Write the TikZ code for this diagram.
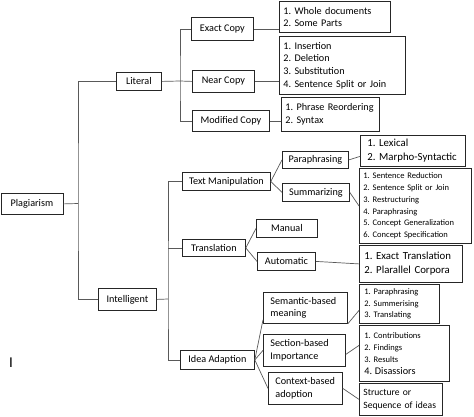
\documentclass[tikz,border=0pt]{standalone}
\usepackage{fontspec}
\setmainfont{Carlito}
\frenchspacing
\usetikzlibrary{positioning}
\newcommand{\catsize}{\fontsize{10.2}{12.7}\selectfont}
\newcommand{\smallsize}{\fontsize{8.5}{11.8}\selectfont}
\newcommand{\largesize}{\fontsize{10.8}{13.7}\selectfont}
\tikzset{
  catbox/.style={draw=black!85, line width=0.8pt, anchor=north west, inner sep=2pt, align=center, font=\catsize},
  listbox/.style={draw=black!85, line width=0.8pt, anchor=north west, inner xsep=4pt, inner ysep=2pt, align=left, font=\catsize},
  branch/.style={draw=black!65, line width=0.7pt},
}

\begin{document}
\begin{tikzpicture}[x=1pt, y=-1pt]
    \useasboundingbox (0,0) rectangle (474,416);
    % first level
    \node[catbox, minimum width=62pt, minimum height=21pt] (plag) at (0.5,193) {Plagiarism};
    \node[catbox, minimum width=45pt, minimum height=18pt] (literal) at (116,72) {Literal};
    \node[catbox, minimum width=58pt, minimum height=22pt] (intel) at (98,288) {Intelligent};
    % literal
    \node[catbox, minimum width=62pt, minimum height=23pt] (exact) at (191,17) {Exact Copy};
    \node[catbox, minimum width=62pt, minimum height=22pt] (near) at (192,70) {Near Copy};
    \node[catbox, minimum width=77pt, minimum height=21pt] (modified) at (192,110) {Modified Copy};
    \node[listbox, text width=103pt, minimum height=31pt] (wholelist) at (279,1) {1. Whole documents\\ 2. Some Parts};
    \node[listbox, text width=118pt, minimum height=58pt] (nearlist) at (279,36) {1. Insertion\\ 2. Deletion\\ 3. Substitution\\ 4. Sentence Split or Join};
    \node[listbox, text width=90pt, minimum height=34pt] (modlist) at (281,97) {1. Phrase Reordering\\ 2. Syntax};
    % intelligent
    \node[catbox, minimum width=88pt, minimum height=18pt] (textman) at (182,172) {Text Manipulation};
    \node[catbox, minimum width=66pt, minimum height=17pt] (para) at (282,151) {Paraphrasing};
    \node[catbox, minimum width=67pt, minimum height=18pt] (summ) at (282,183) {Summarizing};
    \node[listbox, font=\largesize, inner xsep=7pt, text width=91pt, minimum height=31pt] (lexlist) at (360,135) {1. Lexical\\ 2. Marpho-Syntactic};
    \node[listbox, font=\smallsize, text width=104pt, minimum height=75pt] (sumlist) at (359,168) {1. Sentence Reduction\\ 2. Sentence Split or Join\\ 3. Restructuring\\ 4. Paraphrasing\\ 5. Concept Generalization\\ 6. Concept Specification};
    \node[catbox, minimum width=63pt, minimum height=17pt] (trans) at (182,239) {Translation};
    \node[catbox, minimum width=61pt, minimum height=18pt] (manual) at (256,219) {Manual};
    \node[catbox, minimum width=58pt, minimum height=18pt] (auto) at (257,252) {Automatic};
    \node[listbox, font=\largesize, inner xsep=5pt, text width=93pt, minimum height=37pt] (translist) at (359,245) {1. Exact Translation\\ 2. Plarallel Corpora};
    \node[catbox, minimum width=74pt, minimum height=19pt] (idea) at (180,350) {Idea Adaption};
    \node[listbox, inner xsep=7pt, text width=70pt, minimum height=31pt] (sem) at (263,292) {Semantic-based\\ meaning};
    \node[listbox, inner xsep=7pt, text width=68pt, minimum height=32pt] (sec) at (263,334) {Section-based\\ Importance};
    \node[listbox, inner xsep=7pt, text width=60pt, minimum height=32pt] (ctx) at (268,372) {Context-based\\ adoption};
    \node[listbox, font=\smallsize, inner xsep=5pt, text width=70pt, minimum height=39pt] (semlist) at (359,284) {1. Paraphrasing\\ 2. Summerising\\ 3. Translating};
    \node[listbox, font=\smallsize, inner xsep=5pt, text width=80pt, minimum height=56pt] (seclist) at (359,325) {1. Contributions\\ 2. Findings\\ 3. Results\\ {\catsize 4. Disassiors}};
    \node[listbox, font=\fontsize{9.6}{13.5}\selectfont, inner xsep=4pt, text width=75pt, minimum height=32pt] (ctxlist) at (359,383) {Structure or\\ Sequence of ideas};
    \node[font=\fontsize{15}{15}\selectfont, inner sep=0pt] (cursor) at (11,363) {I};
    % forks
    \coordinate (plagfork) at (78,203.5);
    \coordinate (litfork) at (180,81);
    \coordinate (intfork) at (168,299);
    \draw[branch] (plag.east) -- (plagfork);
    \draw[branch] (literal.west) -| (plagfork) |- (intel.west);
    \draw[branch] (literal.east) -- (litfork);
    \draw[branch] (exact.west) -| (litfork) |- (modified.west);
    \draw[branch] (near.west) -- (litfork);
    \draw[branch] (intel.east) -- (intfork);
    \draw[branch] (textman.west) -| (intfork) |- (idea.west);
    \draw[branch] (trans.west) -- (trans.west -| intfork);
    % leaves
    \draw[branch] (exact.east) -- (exact.east -| wholelist.west);
    \draw[branch] (near.east) -- (near.east -| nearlist.west);
    \draw[branch] (modified.east) -- (modified.east -| modlist.west);
    \draw[branch] (textman.east) -- (para.west);
    \draw[branch] (textman.east) -- (summ.west);
    \draw[branch] (para.east) -- ([yshift=-5.5pt]lexlist.west);
    \draw[branch] (summ.east) -- (sumlist.west);
    \draw[branch] (trans.east) -- (manual.west);
    \draw[branch] (trans.east) -- (auto.west);
    \draw[branch] (auto.east) -- (translist.west);
    \draw[branch] (idea.east) -- ([yshift=4pt]sem.south west);
    \draw[branch] (idea.east) -- (sec.west);
    \draw[branch] (idea.east) -- (ctx.west);
    \draw[branch] (sem.south east) -- ([yshift=-6.5pt]semlist.west);
    \draw[branch] ([yshift=-4pt]sec.east) -- ([yshift=8pt]seclist.west);
    \draw[branch] (ctx.east) -- (ctxlist.west);
\end{tikzpicture}
\end{document}
